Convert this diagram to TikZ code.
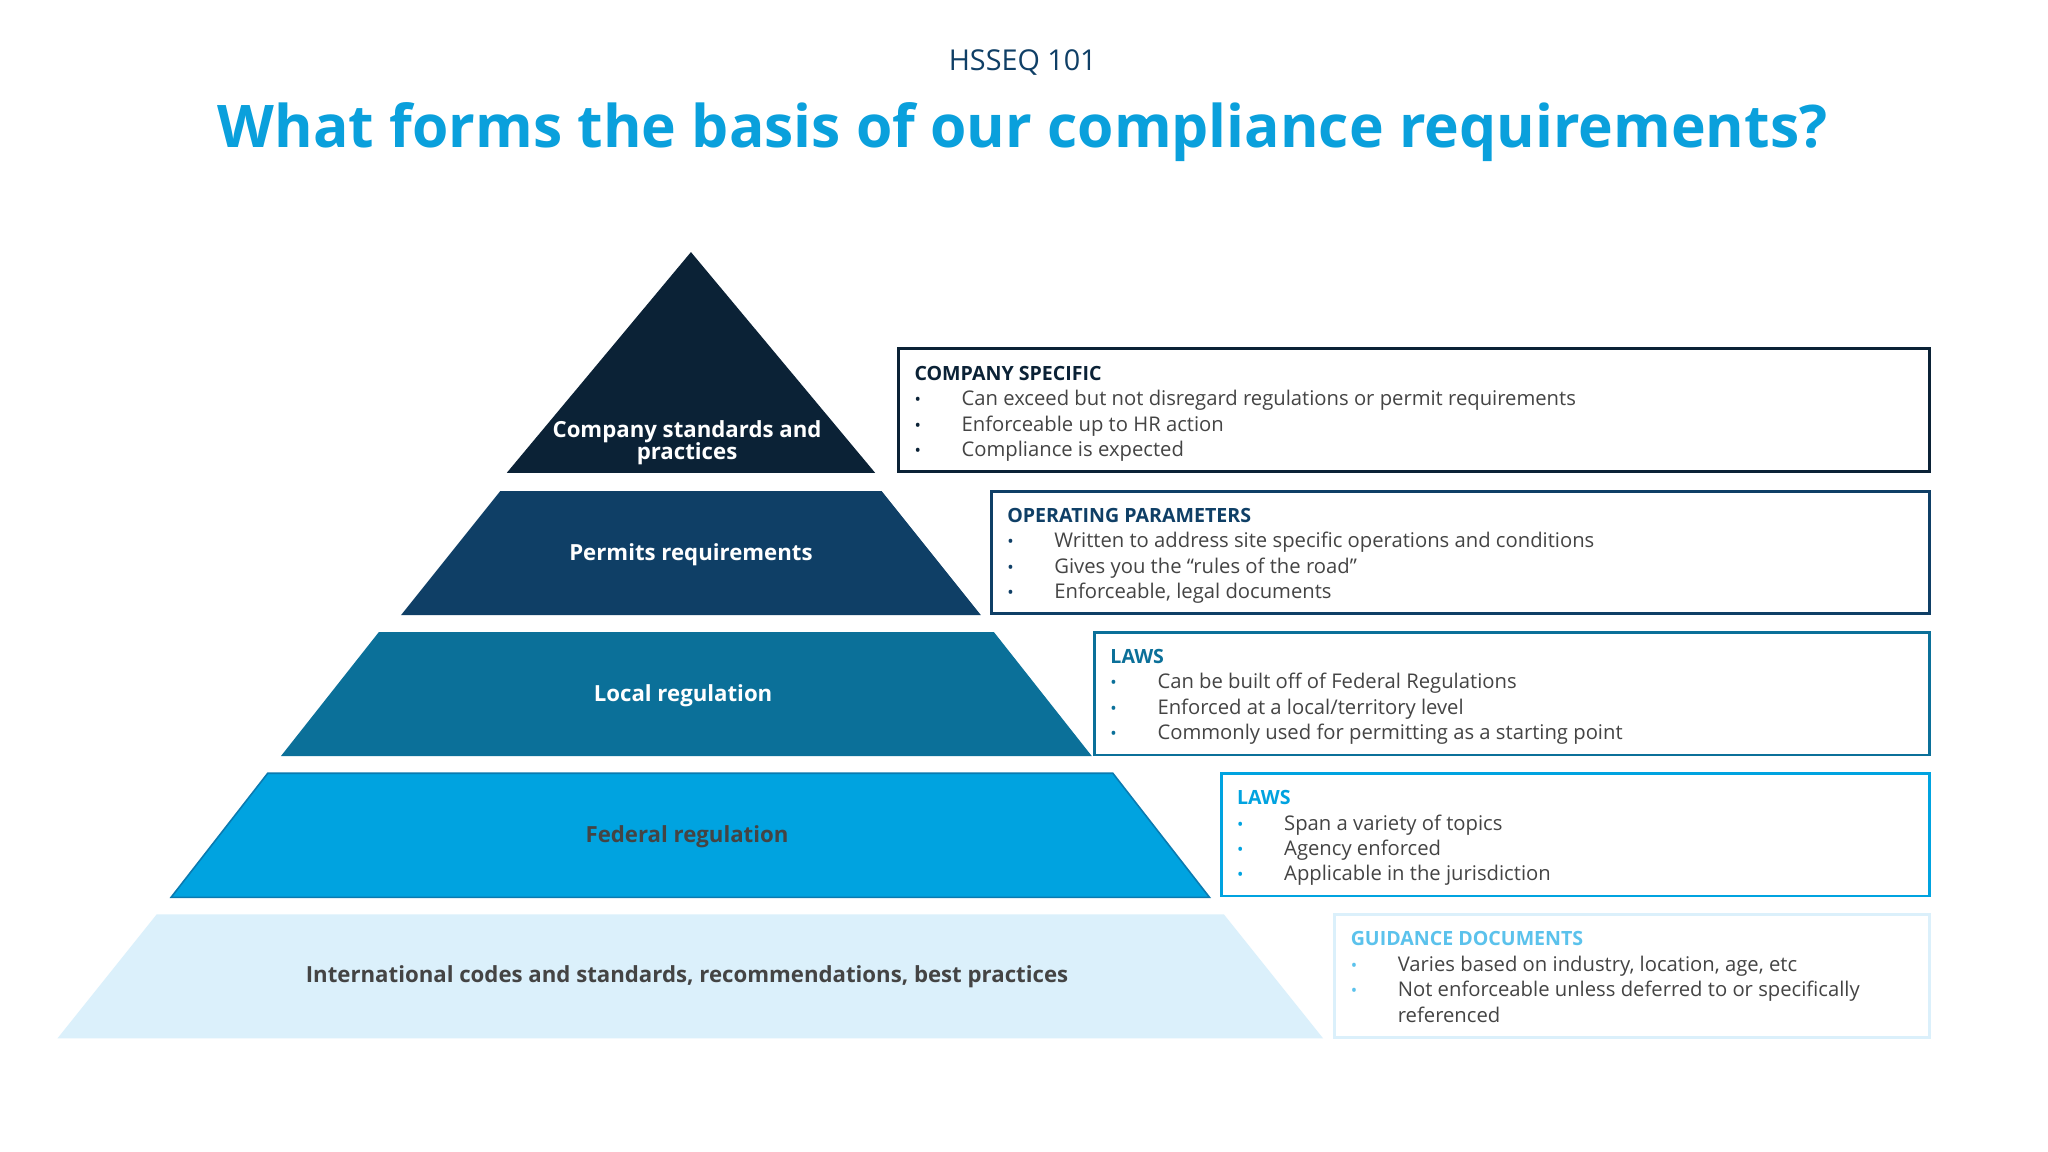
\documentclass[tikz,border=0pt]{standalone}
\usepackage{fontspec}
\setmainfont{Open Sans}
\definecolor{c1}{HTML}{0B2236}
\definecolor{c2}{HTML}{0F3F66}
\definecolor{c3}{HTML}{0B7099}
\definecolor{c4}{HTML}{00A3E0}
\definecolor{c4d}{HTML}{0A7AB0}
\definecolor{c5}{HTML}{DBF0FB}
\definecolor{c5t}{HTML}{5BC2EC}
\definecolor{tg}{HTML}{444444}
\definecolor{ttl}{HTML}{0AA0DC}
\tikzset{
 lbl/.style={font=\fontsize{17}{20}\selectfont\bfseries,align=center},
 head/.style={anchor=base west,font=\fontsize{15}{18}\selectfont\bfseries,inner sep=0},
 bodytxt/.style={anchor=base west,font=\fontsize{15.5}{18}\selectfont,text=tg,inner sep=0},
 bul/.style={anchor=base west,font=\fontsize{13}{18}\selectfont,inner sep=0},
 box/.style={line width=2.2pt}
}
\newcommand{\infobox}[8]{% #1 left x, #2 top y, #3 color, #4 heading, #5 bullet color, #6..#8 lines
 \draw[box,draw=#3] (#1,-#2) rectangle (1477,-#2-94);
 \node[head,text=#5] at (#1+12,-#2-24) {#4};
 \node[bul,text=#5] at (#1+12,-#2-43.5) {•};
 \node[bodytxt] at (#1+48,-#2-43.5) {#6};
 \node[bul,text=#5] at (#1+12,-#2-63) {•};
 \node[bodytxt] at (#1+48,-#2-63) {#7};
 \node[bul,text=#5] at (#1+12,-#2-82.5) {•};
 \node[bodytxt] at (#1+48,-#2-82.5) {#8};
}
\begin{document}
\begin{tikzpicture}[x=1pt,y=1pt]
\useasboundingbox[fill=white] (0,0) rectangle (1568,-882);
\node[font=\fontsize{22}{26}\selectfont,text=c2] (sup) at (783,-48) {HSSEQ 101};
\node[font=\fontsize{45}{52}\selectfont\bfseries,text=ttl] (title) at (783,-101) {What forms the basis of our compliance requirements?};
% pyramid
\fill[c1] (529,-193) -- (670,-362) -- (388,-362) -- cycle;
\fill[c2] (383,-376) -- (675,-376) -- (751,-471) -- (307,-471) -- cycle;
\fill[c3] (290,-484) -- (761,-484) -- (836,-579) -- (215,-579) -- cycle;
\filldraw[fill=c4,draw=c4d,line width=1.2pt] (205,-592) -- (852,-592) -- (926,-687) -- (131,-687) -- cycle;
\fill[c5] (120,-700) -- (937,-700) -- (1013,-795) -- (44,-795) -- cycle;
\node[lbl,text=white] (l1) at (526,-339) {Company standards and\\[-3pt]practices};
\node[lbl,text=white] (l2) at (529,-425) {Permits requirements};
\node[lbl,text=white] (l3) at (523,-533) {Local regulation};
\node[lbl,text=tg] (l4) at (526,-641) {Federal regulation};
\node[lbl,text=tg] (l5) at (526,-748) {International codes and standards, recommendations, best practices};
% boxes
\infobox{688}{267}{c1}{COMPANY SPECIFIC}{c1}{Can exceed but not disregard regulations or permit requirements}{Enforceable up to HR action}{Compliance is expected}
\infobox{759}{376}{c2}{OPERATING PARAMETERS}{c2}{Written to address site specific operations and conditions}{Gives you the “rules of the road”}{Enforceable, legal documents}
\infobox{838}{484}{c3}{LAWS}{c3}{Can be built off of Federal Regulations}{Enforced at a local/territory level}{Commonly used for permitting as a starting point}
\infobox{935}{592}{c4}{LAWS}{c4}{Span a variety of topics}{Agency enforced}{Applicable in the jurisdiction}
\draw[box,draw=c5] (1022,-700) rectangle (1477,-794);
\node[head,text=c5t] (g0) at (1034,-724) {GUIDANCE DOCUMENTS};
\node[bul,text=c5t] (gb1) at (1034,-743.5) {•};
\node[bodytxt] (g1) at (1070,-743.5) {Varies based on industry, location, age, etc};
\node[bul,text=c5t] (gb2) at (1034,-763) {•};
\node[bodytxt] (g2) at (1070,-763) {Not enforceable unless deferred to or specifically};
\node[bodytxt] (g3) at (1070,-782.5) {referenced};
\end{tikzpicture}
\end{document}
